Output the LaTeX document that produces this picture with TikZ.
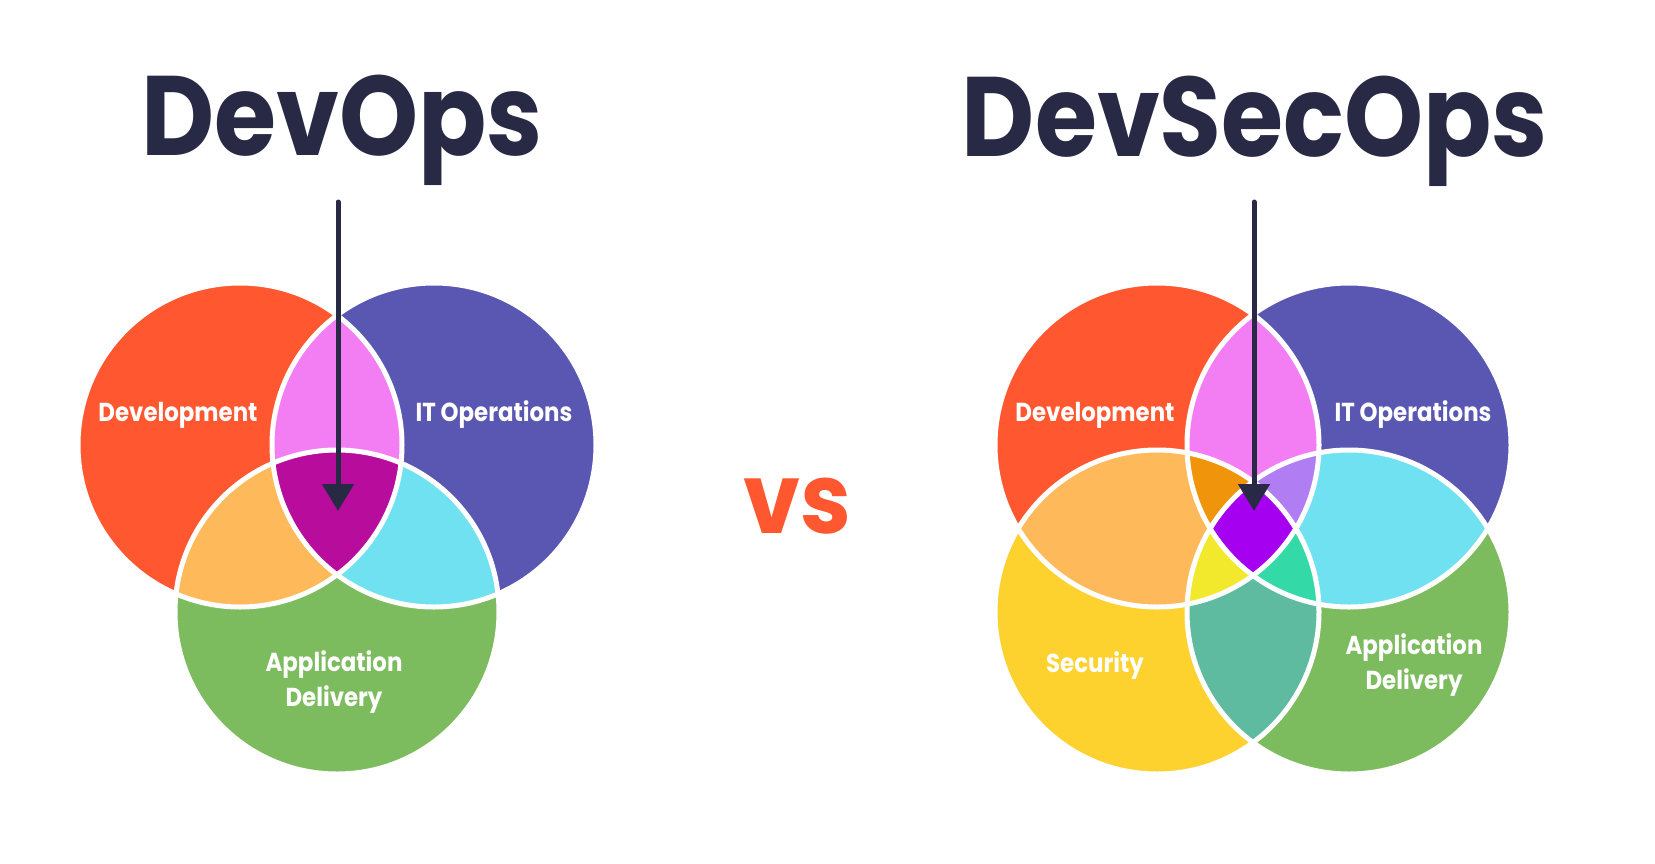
\documentclass[tikz,border=0pt]{standalone}
\usepackage{fontspec}
\usepackage{graphicx}
\setmainfont{Poppins}
\usetikzlibrary{arrows.meta}
\definecolor{navy}{HTML}{282944}
\definecolor{cDev}{HTML}{FF572F}
\definecolor{cIT}{HTML}{5A57B3}
\definecolor{cApp}{HTML}{7DBB5F}
\definecolor{cSec}{HTML}{FDD22F}
\definecolor{cDevIT}{HTML}{F37DF3}
\definecolor{cDevApp}{HTML}{FEBA5A}
\definecolor{cITApp}{HTML}{70E1F0}
\definecolor{cTriple}{HTML}{B80C9C}
\definecolor{cSecApp}{HTML}{5EBB9F}
\definecolor{cDevITSec}{HTML}{F0940C}
\definecolor{cDevITApp}{HTML}{B07EF2}
\definecolor{cDevSecApp}{HTML}{F2E82C}
\definecolor{cITSecApp}{HTML}{33D9A6}
\definecolor{cAll}{HTML}{A600F0}
\newcommand{\ttl}[1]{\scalebox{0.89}[1]{#1}}
\newcommand{\lb}[1]{\scalebox{0.88}[1]{#1}}
\begin{document}
\begin{tikzpicture}[x=1pt,y=-1pt,
  title/.style={font=\fontsize{113}{120}\selectfont\bfseries, text=navy, anchor=base, inner sep=0pt},
  lbl/.style={font=\fontsize{26}{28}\selectfont\bfseries, text=white, anchor=base, inner sep=0pt},
  vsstyle/.style={font=\fontsize{98}{100}\selectfont\bfseries, text=cDev, anchor=base, inner sep=0pt},
  ring/.style={draw=white, line width=5pt},
  pointer/.style={draw=navy, line width=5pt, line cap=round, -{Triangle[width=31pt,length=27pt]}}]
\def\R{162pt}
\fill[white] (0,0) rectangle (1655,863);
\useasboundingbox (0,0) rectangle (1655,863);
% ---------- left diagram ----------
\coordinate (LDev) at (240,445);
\coordinate (LIT) at (434,445);
\coordinate (LApp) at (337,612);
\fill[cDev] (LDev) circle[radius=\R];
\fill[cIT] (LIT) circle[radius=\R];
\fill[cApp] (LApp) circle[radius=\R];
\begin{scope}\clip (LDev) circle[radius=\R]; \fill[cDevIT] (LIT) circle[radius=\R];\end{scope}
\begin{scope}\clip (LDev) circle[radius=\R]; \fill[cDevApp] (LApp) circle[radius=\R];\end{scope}
\begin{scope}\clip (LIT) circle[radius=\R]; \fill[cITApp] (LApp) circle[radius=\R];\end{scope}
\begin{scope}\clip (LDev) circle[radius=\R]; \clip (LIT) circle[radius=\R]; \fill[cTriple] (LApp) circle[radius=\R];\end{scope}
\draw[ring] (LDev) circle[radius=\R];
\draw[ring] (LIT) circle[radius=\R];
\draw[ring] (LApp) circle[radius=\R];
% ---------- right diagram ----------
\coordinate (RDev) at (1157,445);
\coordinate (RIT) at (1349,445);
\coordinate (RSec) at (1157,612);
\coordinate (RApp) at (1349,612);
\fill[cDev] (RDev) circle[radius=\R];
\fill[cIT] (RIT) circle[radius=\R];
\fill[cSec] (RSec) circle[radius=\R];
\fill[cApp] (RApp) circle[radius=\R];
\begin{scope}\clip (RDev) circle[radius=\R]; \fill[cDevIT] (RIT) circle[radius=\R];\end{scope}
\begin{scope}\clip (RDev) circle[radius=\R]; \fill[cDevApp] (RSec) circle[radius=\R];\end{scope}
\begin{scope}\clip (RIT) circle[radius=\R]; \fill[cITApp] (RApp) circle[radius=\R];\end{scope}
\begin{scope}\clip (RSec) circle[radius=\R]; \fill[cSecApp] (RApp) circle[radius=\R];\end{scope}
\begin{scope}\clip (RDev) circle[radius=\R]; \clip (RIT) circle[radius=\R]; \fill[cDevITSec] (RSec) circle[radius=\R];\end{scope}
\begin{scope}\clip (RDev) circle[radius=\R]; \clip (RIT) circle[radius=\R]; \fill[cDevITApp] (RApp) circle[radius=\R];\end{scope}
\begin{scope}\clip (RDev) circle[radius=\R]; \clip (RSec) circle[radius=\R]; \fill[cDevSecApp] (RApp) circle[radius=\R];\end{scope}
\begin{scope}\clip (RIT) circle[radius=\R]; \clip (RSec) circle[radius=\R]; \fill[cITSecApp] (RApp) circle[radius=\R];\end{scope}
\begin{scope}\clip (RDev) circle[radius=\R]; \clip (RIT) circle[radius=\R]; \clip (RSec) circle[radius=\R]; \fill[cAll] (RApp) circle[radius=\R];\end{scope}
\draw[ring] (RDev) circle[radius=\R];
\draw[ring] (RIT) circle[radius=\R];
\draw[ring] (RSec) circle[radius=\R];
\draw[ring] (RApp) circle[radius=\R];
% ---------- texts ----------
\node[title] (tDevOps) at (342,155) {\ttl{DevOps}};
\node[title] (tDevSecOps) at (1255,156) {\ttl{DevSecOps}};
\node[vsstyle] (vs) at (797,533) {\scalebox{0.93}[1]{vs}};
\node[lbl] (lDev) at (178,421) {\lb{Development}};
\node[lbl] (lIT) at (494,421) {\lb{IT Operations}};
\node[lbl] (lApp1) at (334,671) {\lb{Application}};
\node[lbl] (lApp2) at (334,706) {\lb{Delivery}};
\node[lbl] (rDev) at (1095,421) {\lb{Development}};
\node[lbl] (rIT) at (1413,421) {\lb{IT Operations}};
\node[lbl] (rSec) at (1095,672) {\lb{Security}};
\node[lbl] (rApp1) at (1414,654) {\lb{Application}};
\node[lbl] (rApp2) at (1414,689) {\lb{Delivery}};
% ---------- pointers ----------
\coordinate (pLs) at (338,202);
\coordinate (pLe) at (338,511);
\coordinate (pRs) at (1254,202);
\coordinate (pRe) at (1254,511);
\draw[pointer] (pLs) -- (pLe);
\draw[pointer] (pRs) -- (pRe);
\end{tikzpicture}
\end{document}
